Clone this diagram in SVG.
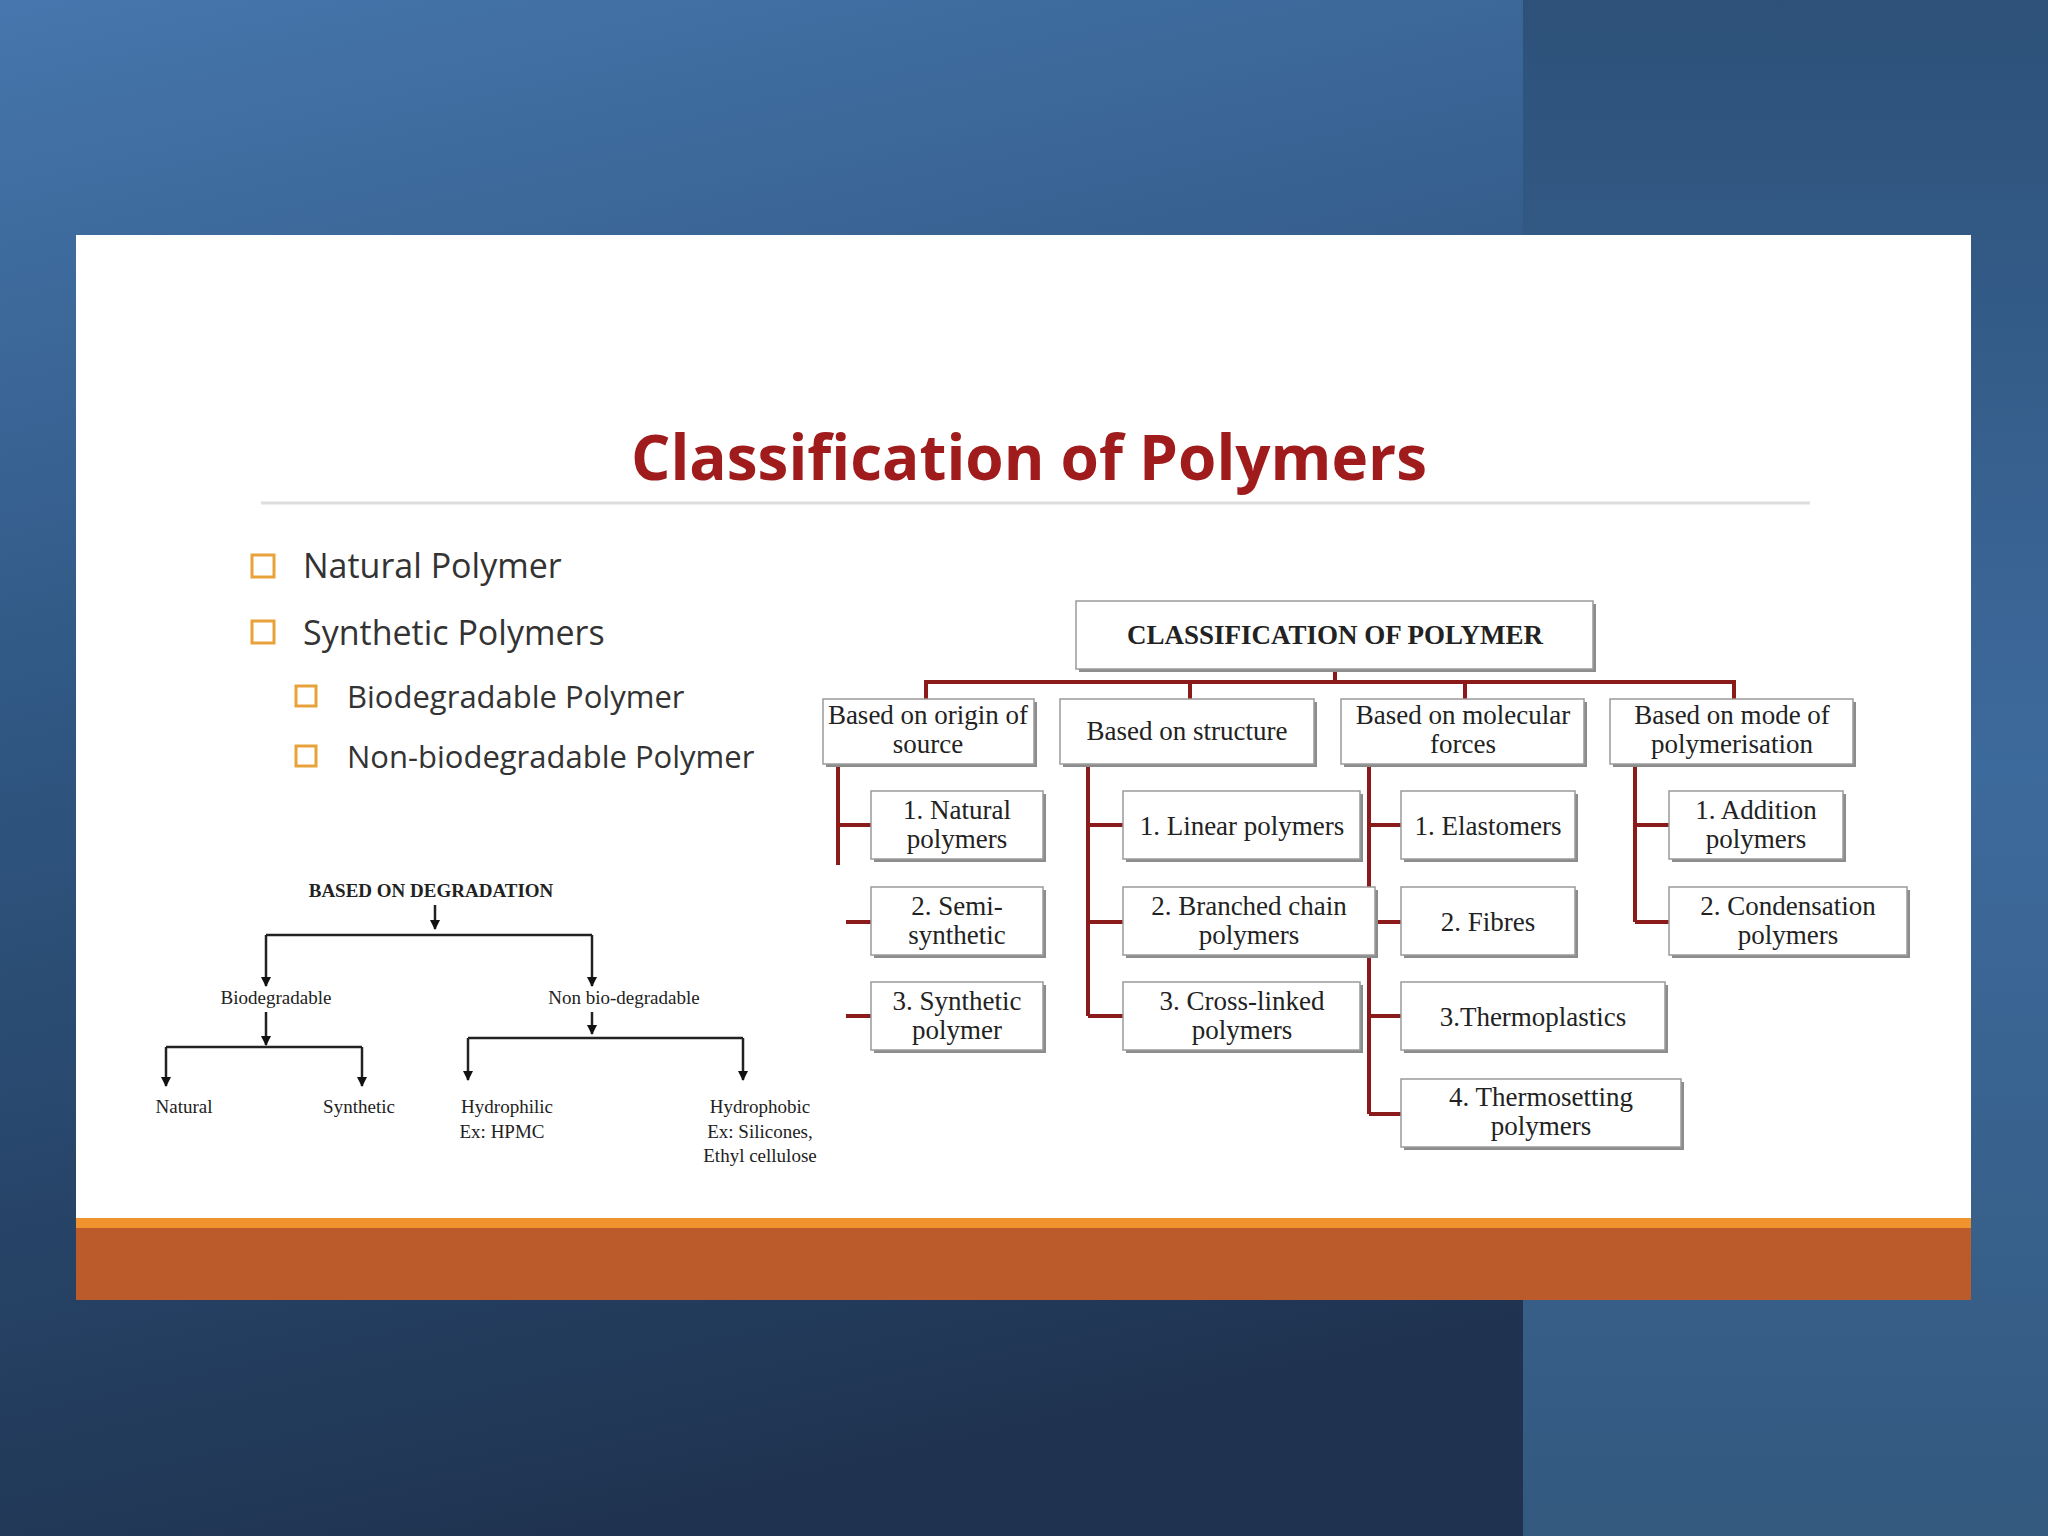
<svg xmlns="http://www.w3.org/2000/svg" width="2048" height="1536" viewBox="0 0 2048 1536">
<defs>
<linearGradient id="bg" x1="0" y1="0" x2="0.3" y2="1"><stop offset="0" stop-color="#4676ad"/><stop offset="0.45" stop-color="#2f5681"/><stop offset="1" stop-color="#1f3350"/></linearGradient>
<linearGradient id="rp" x1="0" y1="0" x2="0" y2="1"><stop offset="0" stop-color="#2d5179"/><stop offset="0.5" stop-color="#3d6a9c"/><stop offset="1" stop-color="#33597f"/></linearGradient>
<marker id="ar" viewBox="0 0 10 10" refX="9" refY="5" markerWidth="4" markerHeight="4" orient="auto"><path d="M0,0L10,5L0,10z" fill="#111"/></marker>
</defs>
<style>
.bx{fill:#fff;stroke:#9a9a9a;stroke-width:1.5}
.sh{fill:#8c8c8c}
.t{font-family:"Liberation Serif",serif;font-size:27px;fill:#222;text-anchor:middle}
.r{stroke:#8b1a1a;stroke-width:4;fill:none}
.k{stroke:#222;stroke-width:2.5;fill:none}
.kt{font-family:"Liberation Serif",serif;font-size:19px;fill:#222;text-anchor:middle}
.bl{font-family:"Open Sans",sans-serif;fill:#333}
.sq{fill:none;stroke:#e8a23a;stroke-width:3}
</style>
<rect width="2048" height="1536" fill="url(#bg)"/>
<rect x="1523" y="0" width="525" height="1536" fill="url(#rp)"/>
<rect x="76" y="235" width="1895" height="1065" fill="#fff"/>
<rect x="76" y="1218" width="1895" height="10" fill="#f0932c"/>
<rect x="76" y="1228" width="1895" height="72" fill="#bb5a2b"/>
<text x="1029" y="480" text-anchor="middle" font-family="Open Sans, sans-serif" font-weight="bold" font-size="62" fill="#a01c1c">Classification of Polymers</text>
<line x1="261" y1="503" x2="1810" y2="503" stroke="#ddd" stroke-width="3"/>
<g id="bullets">
<rect class="sq" x="252" y="555" width="22" height="22"/><text class="bl" x="303" y="578" font-size="34">Natural Polymer</text>
<rect class="sq" x="252" y="621" width="22" height="22"/><text class="bl" x="303" y="645" font-size="34">Synthetic Polymers</text>
<rect class="sq" x="296" y="686" width="20" height="20"/><text class="bl" x="347" y="708" font-size="31">Biodegradable Polymer</text>
<rect class="sq" x="296" y="746" width="20" height="20"/><text class="bl" x="347" y="768" font-size="31">Non-biodegradable Polymer</text>
</g>
<g id="connectors">
<path class="r" d="M1335,669V682M926,699V682H1734V699M1190,682V699M1465,682V699"/>
<path class="r" d="M838,764V865M838,825H871M846,922H871M846,1016H871"/>
<path class="r" d="M1088,764V1016M1088,825H1123M1088,922H1123M1088,1016H1123"/>
<path class="r" d="M1369,764V1114M1369,825H1401M1369,922H1401M1369,1016H1401M1369,1114H1401"/>
<path class="r" d="M1635,764V922M1635,825H1669M1635,922H1669"/>
<path class="k" d="M435,905V929" marker-end="url(#ar)"/>
<path class="k" d="M266,935H592"/>
<path class="k" d="M266,935V986" marker-end="url(#ar)"/>
<path class="k" d="M592,935V986" marker-end="url(#ar)"/>
<path class="k" d="M266,1012V1045" marker-end="url(#ar)"/>
<path class="k" d="M166,1047H362"/>
<path class="k" d="M166,1047V1086" marker-end="url(#ar)"/>
<path class="k" d="M362,1047V1086" marker-end="url(#ar)"/>
<path class="k" d="M592,1012V1034" marker-end="url(#ar)"/>
<path class="k" d="M468,1038H743"/>
<path class="k" d="M468,1038V1080" marker-end="url(#ar)"/>
<path class="k" d="M743,1038V1080" marker-end="url(#ar)"/>
</g>
<g id="root"><rect class="sh" x="1079" y="604" width="517" height="68"/><rect class="bx" x="1076" y="601" width="517" height="68"/><text class="t" x="1335" y="644" font-weight="bold" font-size="26">CLASSIFICATION OF POLYMER</text></g>
<g id="origin"><rect class="sh" x="826" y="702" width="211" height="65"/><rect class="bx" x="823" y="699" width="211" height="65"/><text class="t" x="928" y="724">Based on origin of</text><text class="t" x="928" y="753">source</text></g>
<g id="structure"><rect class="sh" x="1063" y="702" width="254" height="65"/><rect class="bx" x="1060" y="699" width="254" height="65"/><text class="t" x="1187" y="740">Based on structure</text></g>
<g id="molecular"><rect class="sh" x="1344" y="702" width="243" height="65"/><rect class="bx" x="1341" y="699" width="243" height="65"/><text class="t" x="1463" y="724">Based on molecular</text><text class="t" x="1463" y="753">forces</text></g>
<g id="mode"><rect class="sh" x="1613" y="702" width="243" height="65"/><rect class="bx" x="1610" y="699" width="243" height="65"/><text class="t" x="1732" y="724">Based on mode of</text><text class="t" x="1732" y="753">polymerisation</text></g>
<g id="natural"><rect class="sh" x="874" y="794" width="172" height="68"/><rect class="bx" x="871" y="791" width="172" height="68"/><text class="t" x="957" y="819">1. Natural</text><text class="t" x="957" y="848">polymers</text></g>
<g id="semi"><rect class="sh" x="874" y="890" width="172" height="68"/><rect class="bx" x="871" y="887" width="172" height="68"/><text class="t" x="957" y="915">2. Semi-</text><text class="t" x="957" y="944">synthetic</text></g>
<g id="synthetic"><rect class="sh" x="874" y="985" width="172" height="68"/><rect class="bx" x="871" y="982" width="172" height="68"/><text class="t" x="957" y="1010">3. Synthetic</text><text class="t" x="957" y="1039">polymer</text></g>
<g id="linear"><rect class="sh" x="1126" y="794" width="237" height="68"/><rect class="bx" x="1123" y="791" width="237" height="68"/><text class="t" x="1242" y="835">1. Linear polymers</text></g>
<g id="branched"><rect class="sh" x="1126" y="890" width="252" height="68"/><rect class="bx" x="1123" y="887" width="252" height="68"/><text class="t" x="1249" y="915">2. Branched chain</text><text class="t" x="1249" y="944">polymers</text></g>
<g id="cross"><rect class="sh" x="1126" y="985" width="237" height="68"/><rect class="bx" x="1123" y="982" width="237" height="68"/><text class="t" x="1242" y="1010">3. Cross-linked</text><text class="t" x="1242" y="1039">polymers</text></g>
<g id="elastomers"><rect class="sh" x="1404" y="794" width="174" height="68"/><rect class="bx" x="1401" y="791" width="174" height="68"/><text class="t" x="1488" y="835">1. Elastomers</text></g>
<g id="fibres"><rect class="sh" x="1404" y="890" width="174" height="68"/><rect class="bx" x="1401" y="887" width="174" height="68"/><text class="t" x="1488" y="931">2. Fibres</text></g>
<g id="thermoplastics"><rect class="sh" x="1404" y="985" width="264" height="68"/><rect class="bx" x="1401" y="982" width="264" height="68"/><text class="t" x="1533" y="1026">3.Thermoplastics</text></g>
<g id="thermosetting"><rect class="sh" x="1404" y="1082" width="280" height="68"/><rect class="bx" x="1401" y="1079" width="280" height="68"/><text class="t" x="1541" y="1106">4. Thermosetting</text><text class="t" x="1541" y="1135">polymers</text></g>
<g id="addition"><rect class="sh" x="1672" y="794" width="174" height="68"/><rect class="bx" x="1669" y="791" width="174" height="68"/><text class="t" x="1756" y="819">1. Addition</text><text class="t" x="1756" y="848">polymers</text></g>
<g id="condensation"><rect class="sh" x="1672" y="890" width="238" height="68"/><rect class="bx" x="1669" y="887" width="238" height="68"/><text class="t" x="1788" y="915">2. Condensation</text><text class="t" x="1788" y="944">polymers</text></g>
<g id="degradation"><text class="kt" x="431" y="897" font-weight="bold">BASED ON DEGRADATION</text></g>
<g id="biodeg"><text class="kt" x="276" y="1004">Biodegradable</text></g>
<g id="nonbio"><text class="kt" x="624" y="1004">Non bio-degradable</text></g>
<g id="bnatural"><text class="kt" x="184" y="1113">Natural</text></g>
<g id="bsynthetic"><text class="kt" x="359" y="1113">Synthetic</text></g>
<g id="hydrophilic"><text class="kt" x="507" y="1113">Hydrophilic</text><text class="kt" x="502" y="1138">Ex: HPMC</text></g>
<g id="hydrophobic"><text class="kt" x="760" y="1113">Hydrophobic</text><text class="kt" x="760" y="1138">Ex: Silicones,</text><text class="kt" x="760" y="1162">Ethyl cellulose</text></g>
</svg>
